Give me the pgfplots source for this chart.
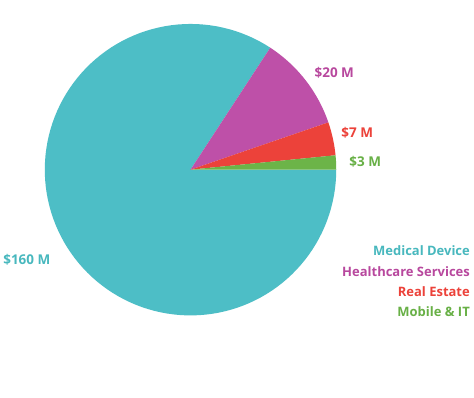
\documentclass[border=0pt]{standalone}
\usepackage{pgfplots}
\usepackage{pgfplotstable}
\usepackage{fontspec}
\setmainfont{Open Sans}
\pgfplotsset{compat=1.18}
\definecolor{cteal}{RGB}{77,190,198}
\definecolor{cpink}{RGB}{190,80,168}
\definecolor{cred}{RGB}{236,66,58}
\definecolor{cgreen}{RGB}{108,180,72}
\definecolor{tpink}{RGB}{184,72,158}
\definecolor{tgreen}{RGB}{104,176,70}
\definecolor{tteal}{RGB}{72,184,190}

\pgfplotstableread{
name value
Medical 160
Healthcare 20
RealEstate 7
Mobile 3
}\piedata

\pgfplotstablegetelem{0}{value}\of\piedata \let\vA\pgfplotsretval
\pgfplotstablegetelem{1}{value}\of\piedata \let\vB\pgfplotsretval
\pgfplotstablegetelem{2}{value}\of\piedata \let\vC\pgfplotsretval
\pgfplotstablegetelem{3}{value}\of\piedata \let\vD\pgfplotsretval
\pgfmathsetmacro\tot{\vA+\vB+\vC+\vD}
% angles counter-clockwise from east: Mobile, Real Estate, Healthcare, Medical
\pgfmathsetmacro\aD{\vD/\tot*360}
\pgfmathsetmacro\aC{\aD+\vC/\tot*360}
\pgfmathsetmacro\aB{\aC+\vB/\tot*360}
\def\cx{190}\def\cy{228}\def\rr{146}

\begin{document}
\begin{tikzpicture}
\begin{axis}[
  scale only axis, width=474pt, height=398pt,
  xmin=0, xmax=474, ymin=0, ymax=398,
  hide axis, clip=false,
]
\path[fill=white] (rel axis cs:0,0) rectangle (rel axis cs:1,1);
\addplot[fill=cteal, draw=none, domain=\aB:360, samples=120]
  ({\cx+\rr*cos(x)},{\cy+\rr*sin(x)}) -- (\cx,\cy) -- cycle;
\addplot[fill=cpink, draw=none, domain=\aC:\aB, samples=30]
  ({\cx+\rr*cos(x)},{\cy+\rr*sin(x)}) -- (\cx,\cy) -- cycle;
\addplot[fill=cred, draw=none, domain=\aD:\aC, samples=15]
  ({\cx+\rr*cos(x)},{\cy+\rr*sin(x)}) -- (\cx,\cy) -- cycle;
\addplot[fill=cgreen, draw=none, domain=0:\aD, samples=8]
  ({\cx+\rr*cos(x)},{\cy+\rr*sin(x)}) -- (\cx,\cy) -- cycle;

\node[font=\bfseries\fontsize{13.5}{16}\selectfont, text=tpink] at (334,325) {\$20 M};
\node[font=\bfseries\fontsize{13.5}{16}\selectfont, text=cred] at (357,265) {\$7 M};
\node[font=\bfseries\fontsize{13.5}{16}\selectfont, text=tgreen] at (365,236) {\$3 M};
\node[font=\bfseries\fontsize{13.5}{16}\selectfont, text=tteal] at (26,138) {\$160 M};

\begin{scope}[every node/.style={anchor=east, inner xsep=0pt, font=\bfseries\fontsize{13}{15}\selectfont}]
\node[text=tteal] at (470,147) {Medical Device};
\node[text=tpink] at (470,126) {Healthcare Services};
\node[text=cred] at (470,106) {Real Estate};
\node[text=tgreen] at (470,86) {Mobile \& IT};
\end{scope}
\end{axis}
\end{tikzpicture}
\end{document}
